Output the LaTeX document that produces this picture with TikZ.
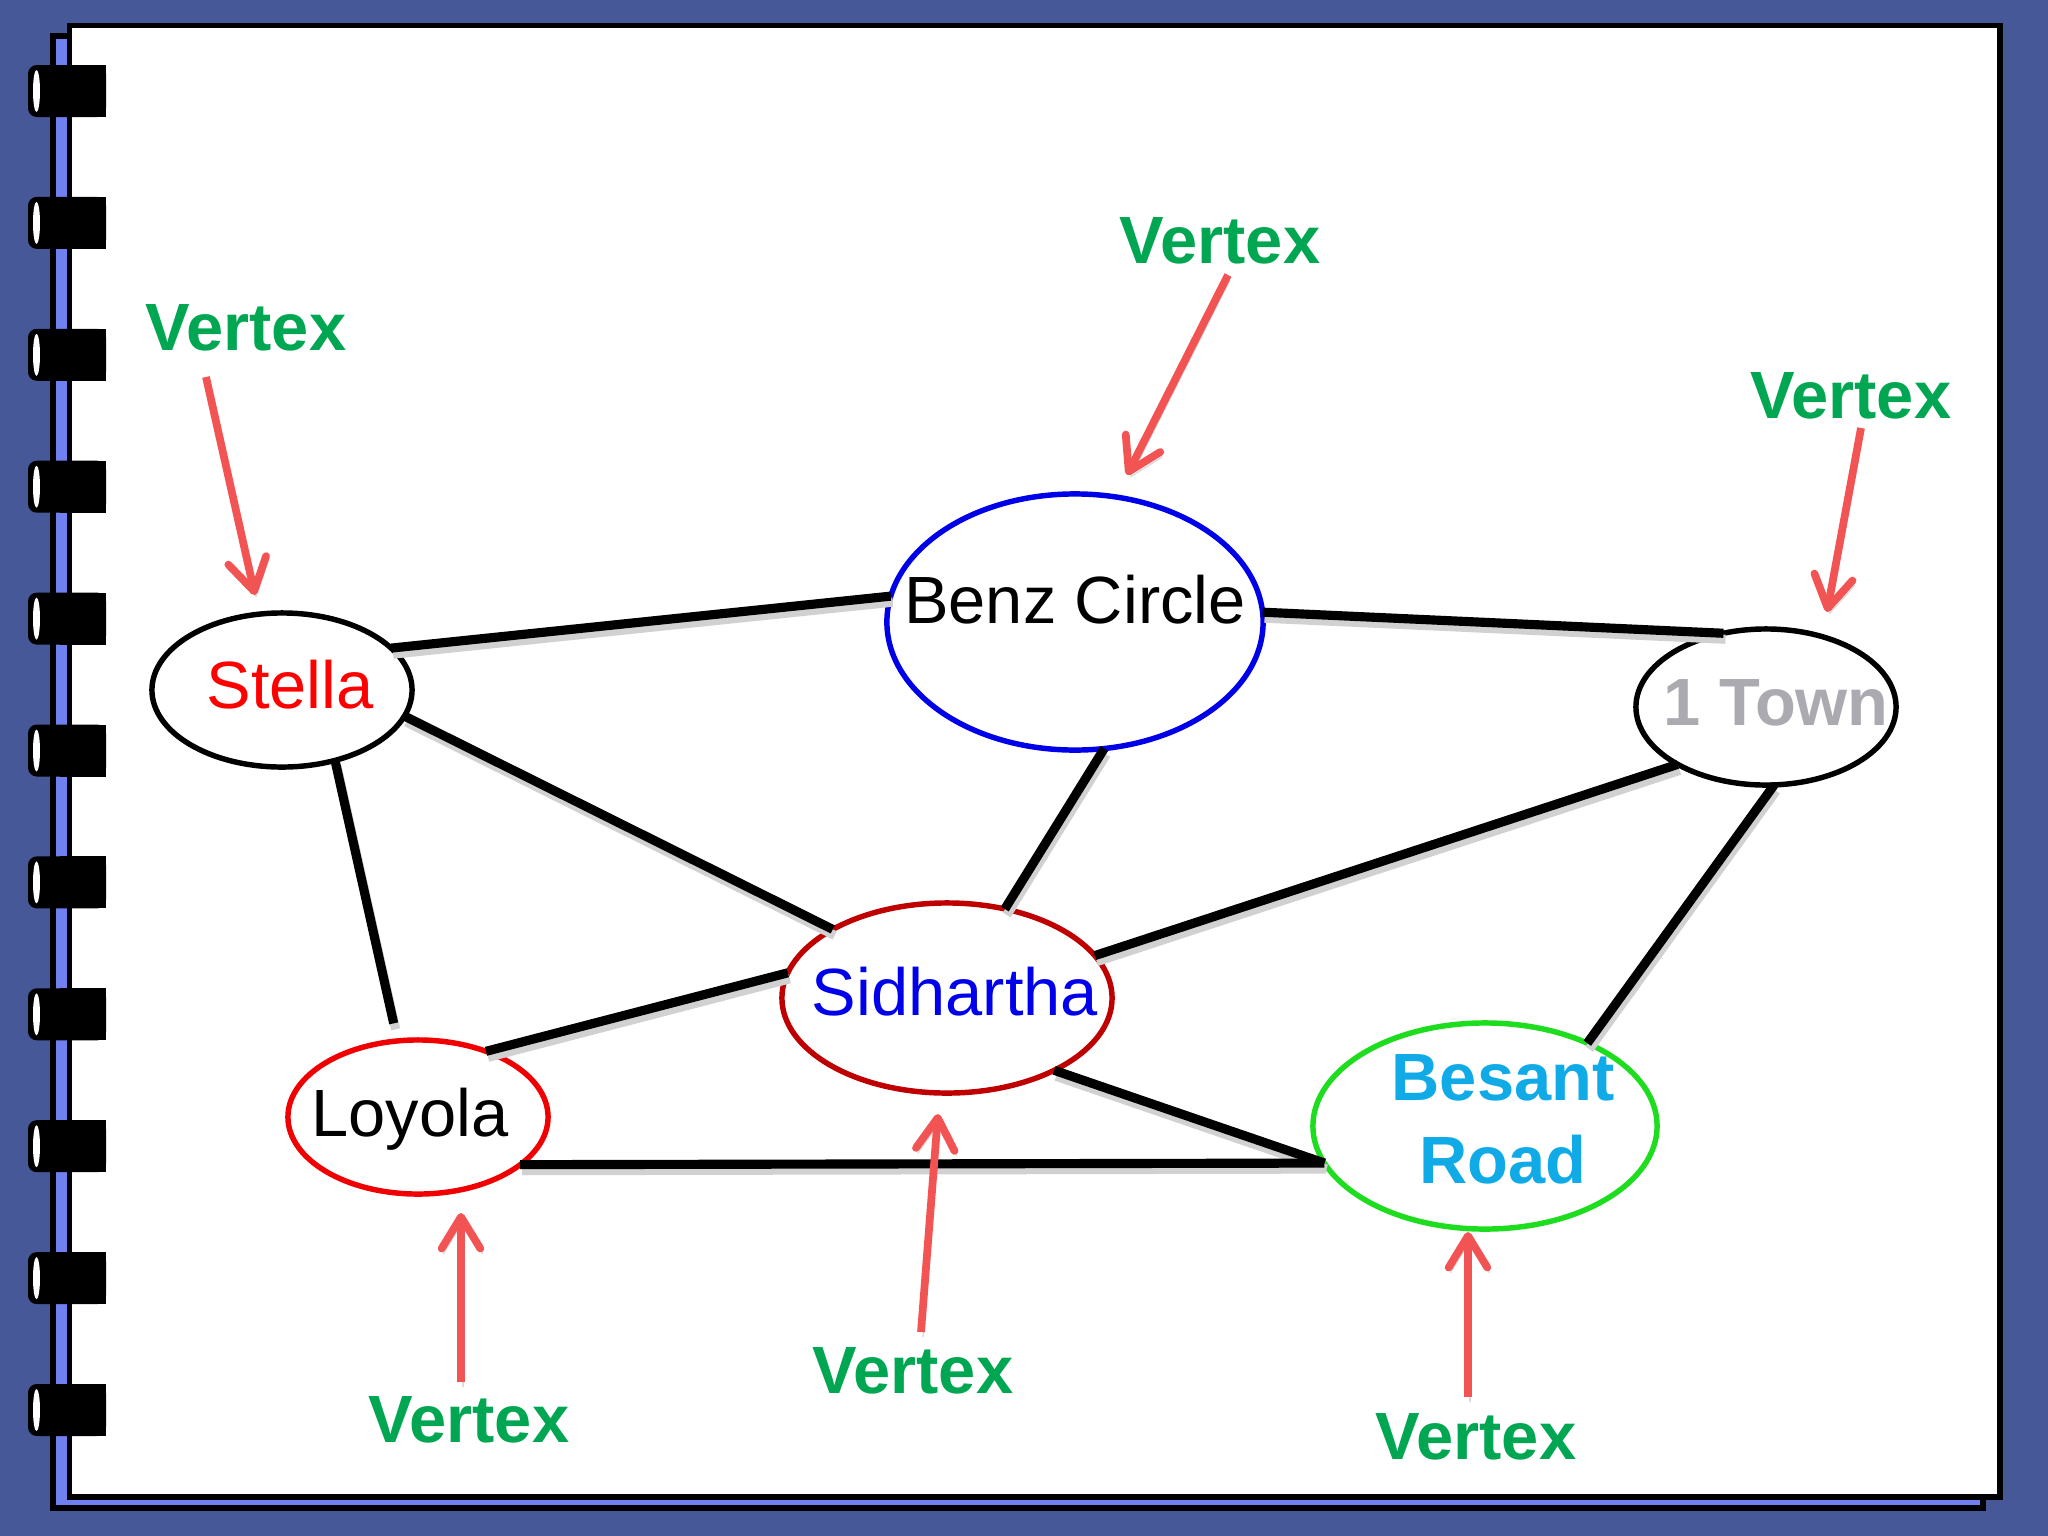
\documentclass[tikz,border=0pt]{standalone}
\usepackage{fontspec}
\setmainfont{Liberation Sans}
\usetikzlibrary{arrows.meta,shapes.geometric}

\definecolor{bgblue}{RGB}{70,88,152}
\definecolor{sheetblue}{RGB}{112,128,240}
\definecolor{vgreen}{RGB}{0,166,81}
\definecolor{arrred}{RGB}{242,84,84}
\definecolor{benzblue}{RGB}{0,0,232}
\definecolor{sidred}{RGB}{190,0,0}
\definecolor{loyred}{RGB}{240,0,0}
\definecolor{besgreen}{RGB}{30,220,30}
\definecolor{bestext}{RGB}{16,170,230}
\definecolor{towngray}{RGB}{170,170,176}
\definecolor{sidtext}{RGB}{0,0,235}

\begin{document}
\begin{tikzpicture}[x=0.01cm,y=-0.01cm,
  vert/.style={ellipse, draw, line width=1.55pt, inner sep=0pt, outer sep=0pt},
  lbl/.style={anchor=base, inner sep=0pt, font=\fontsize{19}{23.6}\selectfont},
  blbl/.style={anchor=base, inner sep=0pt, font=\fontsize{19}{23.6}\selectfont\bfseries},
  vlabel/.style={blbl, text=vgreen},
  link/.style={line width=2.6pt, black,
    preaction={draw=black!18, line width=2.6pt, transform canvas={shift={(2,6)}}}},
  vptr/.style={line width=2.2pt, arrred, -{Straight Barb[round,length=9pt,width=11pt]},
    preaction={draw=black!14, transform canvas={shift={(2,5)}}}}
]
\useasboundingbox (0,0) rectangle (2048,1536);

% background and sheets
\fill[bgblue] (0,0) rectangle (2048,1536);
\filldraw[fill=sheetblue, draw=black, line width=1.7pt] (53,36) rectangle (1983,1508);
\filldraw[fill=white, draw=black, line width=1.7pt] (69.5,25.5) rectangle (2000,1497);

% spiral rings
\foreach \i in {0,...,10} {
  \pgfmathsetmacro\ringc{91+131.9*\i}
  \fill[black, rounded corners=2.5pt] (28,\ringc-26) rectangle (106,\ringc+26);
  \fill[black] (60,\ringc-26) rectangle (106,\ringc+26);
  \fill[white] (36.5,\ringc) ellipse [x radius=3.5, y radius=21];
}

% vertices
\node[vert, draw=black, minimum width=2.60cm, minimum height=1.54cm] (stella) at (282,690) {};
\node[vert, draw=benzblue, minimum width=3.76cm, minimum height=2.56cm] (benz) at (1075,622) {};
\node[vert, draw=black, minimum width=2.60cm, minimum height=1.56cm] (town) at (1766,707) {};
\node[vert, draw=sidred, minimum width=3.30cm, minimum height=1.90cm] (sid) at (947,998) {};
\node[vert, draw=loyred, minimum width=2.60cm, minimum height=1.54cm] (loy) at (418,1117) {};
\node[vert, draw=besgreen, minimum width=3.44cm, minimum height=2.06cm] (bes) at (1485,1126) {};

% vertex texts
\node[lbl, text=red] (stellat) at (290,708) {Stella};
\node[lbl, text=black] (benzt) at (1075,623) {Benz Circle};
\node[blbl, text=towngray] (townt) at (1776,725) {1 Town};
\node[lbl, text=sidtext] (sidt) at (955,1015) {Sidhartha};
\node[lbl, text=black] (loyt) at (410,1136) {Loyola};
\node[blbl, text=bestext, align=center] (best) at (1503,1183) {Besant\\Road};

% edges
\draw[link] (stella.21) -- (benz.172);
\draw[link] (benz.3) -- (town.120);
\draw[link] (stella.-12) -- (sid.149);
\draw[link, shorten >=0.18cm] (stella.-53) -- (loy.105);
\draw[link] (benz.-77) -- (sid.57);
\draw[link] (town.-147) -- (sid.16);
\draw[link] (town.-84) -- (bes.39);
\draw[link] (sid.171) -- (loy.44);
\draw[link] (sid.-34) -- (bes.193);
\draw[link] (loy.-25) -- (bes.193);

% Vertex labels
\node[vlabel] (v1) at (246,350) {Vertex};
\node[vlabel] (v2) at (1220,263) {Vertex};
\node[vlabel] (v3) at (1851,418) {Vertex};
\node[vlabel] (v4) at (469,1442) {Vertex};
\node[vlabel] (v5) at (913,1393) {Vertex};
\node[vlabel] (v6) at (1476,1459) {Vertex};

% pointer arrows
\coordinate (a1s) at (206,377);   \coordinate (a1t) at (255,595);
\coordinate (a2s) at (1228,275);  \coordinate (a2t) at (1127,475);
\coordinate (a3s) at (1861,428);  \coordinate (a3t) at (1827,612);
\coordinate (a4s) at (461,1382);  \coordinate (a4t) at (461,1213);
\coordinate (a5s) at (921,1332);  \coordinate (a5t) at (938,1114);
\coordinate (a6s) at (1468,1397); \coordinate (a6t) at (1468,1232);
\draw[vptr] (a1s) -- (a1t);
\draw[vptr] (a2s) -- (a2t);
\draw[vptr] (a3s) -- (a3t);
\draw[vptr] (a4s) -- (a4t);
\draw[vptr] (a5s) -- (a5t);
\draw[vptr] (a6s) -- (a6t);
\end{tikzpicture}
\end{document}
